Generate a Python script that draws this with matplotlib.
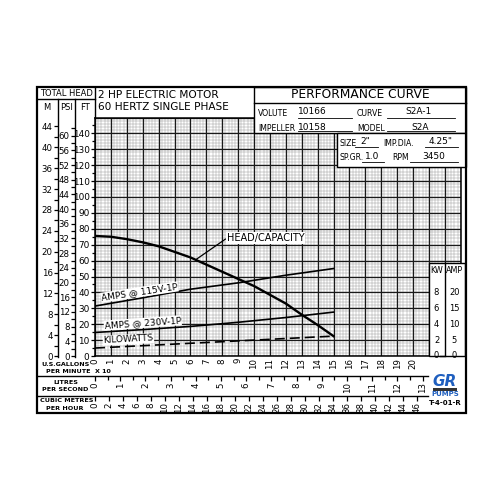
import numpy as np
import matplotlib.pyplot as plt
from matplotlib.patches import Rectangle

# =========================
# data  (x = U.S. gallons per minute x 10)
# =========================
head_gpm = [0, 1, 2, 3, 4, 5, 6, 7, 8, 9, 10, 11, 12, 13, 14, 15]
head_ft = [75.5, 75, 73.5, 71.5, 69, 65.5, 62, 57.5, 53, 48.5, 44, 38.5, 33, 26, 19.5, 12.5]

amps_gpm = [0, 3, 6, 9, 12, 15]
amps_115 = [15.7, 18.3, 21.0, 23.0, 25.4, 27.5]
amps_230 = [7.4, 8.3, 9.3, 10.6, 12.1, 13.8]

kw_gpm = [0, 5, 10, 15]
kw_vals = [1.0, 1.5, 2.0, 2.5]

gpm_ticks = list(range(0, 21))
ft_ticks = list(range(0, 141, 10))
m_ticks = list(range(0, 45, 4))
psi_ticks = list(range(0, 61, 4))
lps_ticks = list(range(0, 14))
m3h_ticks = list(range(0, 47, 2))
kw_ticks = [0, 2, 4, 6, 8]
amp_ticks = [0, 5, 10, 15, 20]

FT_PER_M = 3.2808
FT_PER_PSI = 2.31
LPS_PER_UNIT = 10 * 0.0630902
M3H_PER_UNIT = 10 * 0.2271247

# =========================
# layout (pixels of a 500x500 picture)
# =========================
W = 500.0
X0, X1 = 95.0, 460.7      # 0 .. 23 (gpm x 10)
Y0, Y1 = 356.0, 117.5     # 0 .. 150 ft
XMAX, YMAX = 23, 150


def fx(px):
    return px / W


def fy(py):
    return 1 - py / W


plt.rcParams["font.family"] = "DejaVu Sans"

fig = plt.figure(figsize=(5, 5), dpi=100)

ax = fig.add_axes([fx(X0), fy(Y0), (X1 - X0) / W, (Y0 - Y1) / W])
ax.set_xlim(0, XMAX)
ax.set_ylim(0, YMAX)

# graph paper
ax.vlines(np.arange(0, XMAX + 0.01, 0.2), 0, YMAX, color="#9a9a9a", lw=0.35, zorder=0.5)
ax.hlines(np.arange(0, YMAX + 0.1, 2), 0, XMAX, color="#9a9a9a", lw=0.35, zorder=0.5)
ax.vlines(np.arange(0, XMAX + 0.01, 1), 0, YMAX, color="#1a1a1a", lw=0.9, zorder=0.6)
ax.hlines(np.arange(0, YMAX + 0.1, 10), 0, XMAX, color="#1a1a1a", lw=0.9, zorder=0.6)

# head / capacity
ax.plot(head_gpm, head_ft, color="black", lw=1.7, zorder=3)
ax.text(8.3, 74.2, "HEAD/CAPACITY", fontsize=7, va="center", ha="left", zorder=4,
        bbox=dict(facecolor="white", edgecolor="none", pad=0.6))
ax.plot([8.2, 6.4], [73.5, 61], color="black", lw=0.9, zorder=3)

# ft scale (left edge of the grid)
ax.set_yticks(ft_ticks)
ax.set_yticks(np.arange(0, 146, 5), minor=True)
ax.tick_params(axis="y", which="major", direction="out", length=3, width=0.9,
               labelsize=6.4, pad=1)
ax.tick_params(axis="y", which="minor", direction="out", length=2.5, width=0.9)
ax.set_xticks(gpm_ticks)
ax.set_xticklabels([str(v) for v in gpm_ticks], rotation=90)
ax.tick_params(axis="x", length=0, labelsize=6.2, pad=1.5)
for s in ax.spines.values():
    s.set_linewidth(1.1)

# KW / AMP panel
ax.add_patch(Rectangle((21, 0), 2.3, 58.5, facecolor="white", edgecolor="black",
                       lw=1.0, zorder=5, clip_on=False))
ax.plot([22, 22], [0, 58.5], color="black", lw=1.0, zorder=6)
ax.plot([21.7, 22], [0, 0], color="black", lw=1.0, zorder=6, clip_on=False)
ax.text(21.5, 54, "KW", fontsize=5.8, ha="center", va="center", zorder=6)
ax.text(22.6, 54, "AMP", fontsize=5.8, ha="center", va="center", zorder=6)

# amps (twin scale: 20 A at 40 ft)
ax_amp = ax.twinx()
ax_amp.set_ylim(0, YMAX / 2)
ax_amp.axis("off")
ax_amp.plot(amps_gpm, amps_115, color="black", lw=1.2, zorder=3)
ax_amp.plot(amps_gpm, amps_230, color="black", lw=1.2, zorder=3)
ax_amp.text(2.8, 20.1, "AMPS @ 115V-1P", fontsize=6.5, rotation=8.5, ha="center",
            va="center", rotation_mode="anchor", zorder=4,
            bbox=dict(facecolor="white", edgecolor="none", pad=0.4))
ax_amp.text(3.0, 10.4, "AMPS @ 230V-1P", fontsize=6.5, rotation=4, ha="center",
            va="center", rotation_mode="anchor", zorder=4,
            bbox=dict(facecolor="white", edgecolor="none", pad=0.4))
for v in amp_ticks:
    ax_amp.text(22.6, v, str(v), fontsize=6, ha="center", va="center", zorder=6)

# kilowatts (twin scale: 8 kW at 40 ft)
ax_kw = ax.twinx()
ax_kw.set_ylim(0, YMAX / 5)
ax_kw.axis("off")
ax_kw.plot(kw_gpm, kw_vals, color="black", lw=1.2, dashes=(6, 3), zorder=3)
ax_kw.text(2.1, 2.09, "KILOWATTS", fontsize=6.5, rotation=3, ha="center", va="center",
           rotation_mode="anchor", zorder=4,
           bbox=dict(facecolor="white", edgecolor="none", pad=0.4))
for v in kw_ticks:
    ax_kw.text(21.65, v, str(v), fontsize=6, ha="right", va="center", zorder=6)

# metres scale
ax_m = fig.add_axes([fx(58), fy(Y0), 0.001, (Y0 - Y1) / W])
ax_m.set_ylim(0, YMAX / FT_PER_M)
ax_m.set_yticks(m_ticks)
ax_m.set_yticks(np.arange(0, 46, 2), minor=True)

# psi scale
ax_psi = fig.add_axes([fx(75), fy(Y0), 0.001, (Y0 - Y1) / W])
ax_psi.set_ylim(0, YMAX / FT_PER_PSI)
ax_psi.set_yticks(psi_ticks)
ax_psi.set_yticks(np.arange(0, 64, 2), minor=True)

for a in (ax_m, ax_psi):
    a.patch.set_visible(False)
    for s in a.spines.values():
        s.set_visible(False)
    a.xaxis.set_visible(False)
    a.tick_params(axis="y", which="major", direction="out", length=3, width=0.9,
                  labelsize=6.2, pad=0.8)
    a.tick_params(axis="y", which="minor", direction="out", length=3, width=0.9)

# litres per second scale
ax_lps = fig.add_axes([fx(X0), fy(376), (X1 - X0) / W, 0.001])
ax_lps.set_xlim(0, XMAX * LPS_PER_UNIT)
ax_lps.set_xticks(lps_ticks)
ax_lps.set_xticks(np.arange(0.5, 13.1, 1), minor=True)

# cubic metres per hour scale
ax_m3h = fig.add_axes([fx(X0), fy(396), (X1 - X0) / W, 0.001])
ax_m3h.set_xlim(0, XMAX * M3H_PER_UNIT)
ax_m3h.set_xticks(m3h_ticks)

for a in (ax_lps, ax_m3h):
    a.patch.set_visible(False)
    for s in a.spines.values():
        s.set_visible(False)
    a.yaxis.set_visible(False)
    a.set_xticklabels([str(v) for v in a.get_xticks()], rotation=90)
    a.tick_params(axis="x", which="major", direction="out", length=3.5, width=0.9,
                  labelsize=6.2, pad=1)
    a.tick_params(axis="x", which="minor", direction="out", length=3, width=0.9)

# =========================
# frame, title block and captions (pixel overlay)
# =========================
ov = fig.add_axes([0, 0, 1, 1], zorder=10)
ov.set_xlim(0, 500)
ov.set_ylim(500, 0)
ov.axis("off")
ov.patch.set_visible(False)

ov.add_patch(Rectangle((254, 87), 212, 46, facecolor="white", edgecolor="black", lw=1.0))
ov.add_patch(Rectangle((337, 133), 129, 34, facecolor="white", edgecolor="black", lw=1.0))
ov.add_patch(Rectangle((37, 87), 429, 326, fill=False, edgecolor="black", lw=1.6))

lines = [
    ((37, 95), (99, 99)),
    ((58, 58), (99, 357)),
    ((75, 75), (99, 357)),
    ((95, 95), (87, 118)),
    ((254, 466), (103, 103)),
    ((37, 428), (376, 376)),
    ((37, 428), (396, 396)),
]
for xs, ys in lines:
    ov.plot(xs, ys, color="black", lw=1.0)

ov.text(66, 93.5, "TOTAL HEAD", fontsize=6.0, ha="center", va="center")
ov.text(47, 107.5, "M", fontsize=6, ha="center", va="center")
ov.text(66.5, 107.5, "PSI", fontsize=6, ha="center", va="center")
ov.text(85, 107.5, "FT", fontsize=6, ha="center", va="center")
ov.text(98, 95, "2 HP ELECTRIC MOTOR", fontsize=7.6, ha="left", va="center")
ov.text(98, 107, "60 HERTZ SINGLE PHASE", fontsize=7.6, ha="left", va="center")
ov.text(360, 95, "PERFORMANCE CURVE", fontsize=8.8, ha="center", va="center")

small = dict(fontsize=5.6, va="center")
ov.text(258, 114, "VOLUTE", ha="left", **small)
ov.text(312, 112, "10166", ha="center", fontsize=6.5, va="center")
ov.text(357, 114, "CURVE", ha="left", **small)
ov.text(418, 112, "S2A-1", ha="center", fontsize=6.5, va="center")
ov.text(258, 128.5, "IMPELLER", ha="left", **small)
ov.text(312, 127, "10158", ha="center", fontsize=6.5, va="center")
ov.text(357, 128.5, "MODEL", ha="left", **small)
ov.text(420, 127, "S2A", ha="center", fontsize=6.5, va="center")
ov.text(340, 143, "SIZE", ha="left", **small)
ov.text(365, 141.5, "2\"", ha="center", fontsize=6.5, va="center")
ov.text(383, 143, "IMP.DIA.", ha="left", **small)
ov.text(441, 141.5, "4.25\"", ha="center", fontsize=6.5, va="center")
ov.text(340, 158, "SP.GR.", ha="left", **small)
ov.text(372, 156.5, "1.0", ha="center", fontsize=6.5, va="center")
ov.text(392, 158, "RPM", ha="left", **small)
ov.text(434, 156.5, "3450", ha="center", fontsize=6.5, va="center")
underlines = [((298, 352), 117.5), ((387, 455), 117.5), ((298, 352), 130.5), ((387, 455), 130.5),
              ((355, 378), 147), ((425, 458), 147), ((362, 384), 162), ((410, 458), 162)]
for xs, yv in underlines:
    ov.plot(xs, (yv, yv), color="black", lw=0.6)

cap = dict(fontsize=4.6, fontweight="bold")
ov.text(41, 364.5, "U.S.GALLONS", ha="left", va="center", **cap)
ov.text(46, 371.5, "PER MINUTE  X 10", ha="left", va="center", **cap)
ov.text(66, 382.5, "LITRES", ha="center", va="center", **cap)
ov.text(65, 389.5, "PER SECOND", ha="center", va="center", **cap)
ov.text(40, 401, "CUBIC METRES", ha="left", va="center", **cap)
ov.text(65, 408, "PER HOUR", ha="center", va="center", **cap)

# logo
ov.text(445, 382, "GR", fontsize=11, fontweight="bold", style="italic", color="#1f5fbf",
        ha="center", va="center")
ov.add_patch(Rectangle((433, 388), 24, 3, facecolor="#333333", edgecolor="none"))
ov.text(445, 394.5, "PUMPS", fontsize=5, fontweight="bold", color="#1f5fbf",
        ha="center", va="center")
ov.text(445, 403, "T-4-01-R", fontsize=5, fontweight="bold", ha="center", va="center")

plt.savefig("out.png", dpi=100)
